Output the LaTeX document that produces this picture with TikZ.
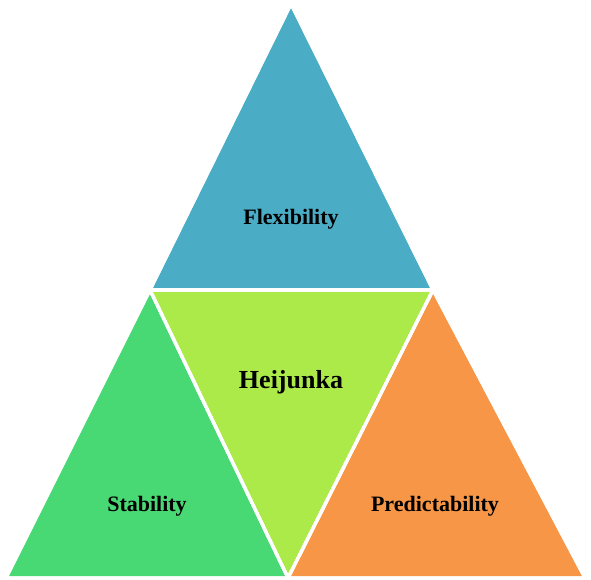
\documentclass[tikz,border=0pt]{standalone}
\usepackage{fontspec}
\setmainfont{Liberation Serif}
\usepackage{tikz}
\usetikzlibrary{positioning}

\definecolor{flexblue}{HTML}{4BACC6}
\definecolor{heilime}{HTML}{ACEA4A}
\definecolor{stabgreen}{HTML}{48D874}
\definecolor{predorange}{HTML}{F79646}

\begin{document}
\begin{tikzpicture}[
    x=1pt, y=-1pt,
    tri/.style={draw=white, line width=3.2pt, line join=miter},
    lbl/.style={font=\bfseries\fontsize{22}{24}\selectfont, text=black, inner sep=0pt},
    biglbl/.style={font=\bfseries\fontsize{26}{28}\selectfont, text=black, inner sep=0pt}
]
\useasboundingbox (0,0) rectangle (591,579);

% corner points of the big triangle
\coordinate (apex) at (291,4);
\coordinate (ml) at (150,290);
\coordinate (mr) at (433,290);
\coordinate (bl) at (6,578);
\coordinate (bm) at (288,578);
\coordinate (br) at (585,578);

\fill[tri, fill=flexblue]   (apex) -- (ml) -- (mr) -- cycle;
\fill[tri, fill=heilime]    (ml) -- (mr) -- (bm) -- cycle;
\fill[tri, fill=stabgreen]  (ml) -- (bl) -- (bm) -- cycle;
\fill[tri, fill=predorange] (mr) -- (bm) -- (br) -- cycle;
\draw[tri] (apex) -- (ml) -- (mr) -- cycle;
\draw[tri] (ml) -- (mr) -- (bm) -- cycle;
\draw[tri] (ml) -- (bl) -- (bm) -- cycle;
\draw[tri] (mr) -- (bm) -- (br) -- cycle;

\node[lbl] (flex) at (291,219) {Flexibility};
\node[biglbl] (heij) at (291,382) {Heijunka};
\node[lbl] (stab) at (147,506) {Stability};
\node[lbl] (pred) at (435,506) {Predictability};

\end{tikzpicture}
\end{document}
